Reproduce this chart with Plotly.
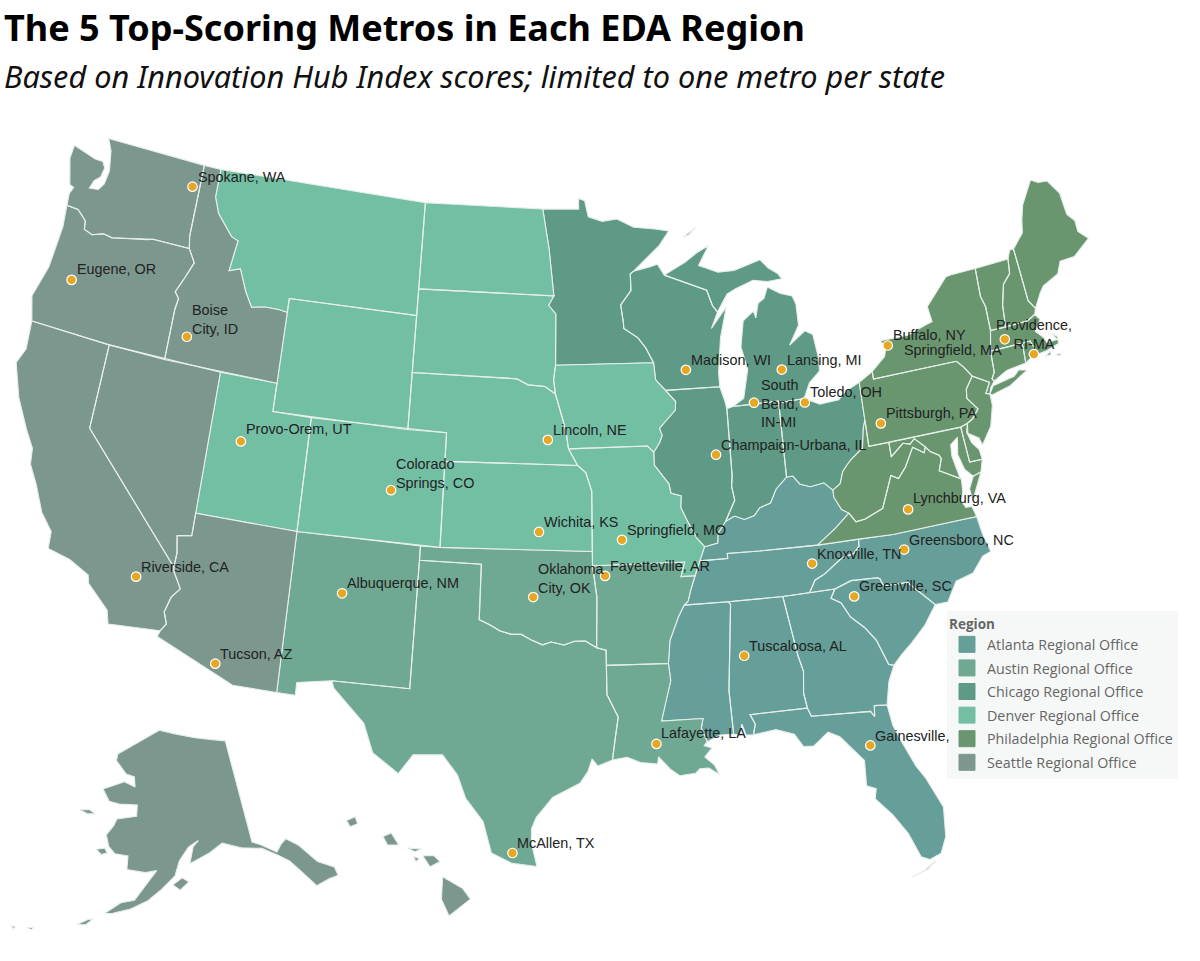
import math
import plotly.graph_objects as go

# ---------- chart text ----------
TITLE = "The 5 Top-Scoring Metros in Each EDA Region"
SUBTITLE = "Based on Innovation Hub Index scores; limited to one metro per state"

# ---------- regions ----------
region_names = ["Atlanta Regional Office", "Austin Regional Office", "Chicago Regional Office",
                "Denver Regional Office", "Philadelphia Regional Office", "Seattle Regional Office"]
region_colors = ["#669e99", "#70a993", "#5e9a85", "#73bfa4", "#69966f", "#7c978e"]
region_states = [["KY","TN","NC","SC","GA","FL","AL","MS"],
                 ["NM","TX","OK","AR","LA"],
                 ["MN","WI","IL","MI","IN","OH"],
                 ["MT","ND","SD","WY","NE","KS","CO","UT","IA","MO"],
                 ["ME","NH","VT","MA","RI","CT","NY","NJ","PA","DE","MD","VA","WV"],
                 ["WA","OR","ID","CA","NV","AZ","AK","HI"]]

# ---------- metros (lon / lat) ----------
metro_labels = ["Spokane, WA","Eugene, OR","Boise<br>City, ID","Provo-Orem, UT","Colorado<br>Springs, CO",
  "Riverside, CA","Tucson, AZ","Albuquerque, NM","Lincoln, NE","Wichita, KS","Springfield, MO",
  "Oklahoma<br>City, OK","Fayetteville, AR","McAllen, TX","Lafayette, LA","Madison, WI","Lansing, MI",
  "South<br>Bend,<br>IN-MI","Toledo, OH","Champaign-Urbana, IL","Buffalo, NY","Springfield, MA",
  "Providence,<br>RI-MA","Pittsburgh, PA","Lynchburg, VA","Knoxville, TN","Greensboro, NC",
  "Greenville, SC","Tuscaloosa, AL","Gainesville,"]
metro_lon = [-117.45,-122.75,-116.12,-112.43,-104.65,-116.29,-111.99,-106.56,-96.83,-97.23,-93.16,-97.47,
  -94.02,-98.2,-91.87,-89.52,-84.46,-86.09,-83.46,-88.26,-78.74,-72.64,-71.35,-79.74,-79.08,-84.04,
  -79.58,-82.25,-87.65,-82.41]
metro_lat = [48.16,43.81,42.96,39.77,38.84,34.38,31.97,35.08,40.89,37.68,37.38,35.41,36.14,26.42,30.21,
  43.18,42.84,41.81,41.59,40.14,43.06,42.32,41.54,40.43,37.3,35.99,35.95,34.64,33.07,29.39]
label_dx = [3,3,3,3,3,3,3,3,3,3,3,3,3,3,3,3,3,5,3,3,3,-1,0,3,3,3,3,3,3,3]
label_dy = [10,11,17,12,17,10,10,10,10,10,10,19,10,10,11,10,10,-1,10,10,10,-11,20,10,11,10,10,10,10,9]
label_anchor = ["left"]*21 + ["right", "center"] + ["left"]*7

# ---------- shared state boundaries (lon, lat) ----------
MN_WI = [(-92.1,46.75),(-92.29,46.66),(-92.29,46.07),(-92.88,45.58),(-92.76,44.95),(-92.75,44.75),(-92.0,44.4),(-91.6,44.03),(-91.22,43.5)]
WI_IA = [(-91.22,43.5),(-91.15,42.9),(-90.65,42.51)]
IA_IL = [(-90.65,42.51),(-90.16,42.1),(-90.2,41.8),(-90.7,41.47),(-91.07,41.2),(-90.95,40.95),(-91.1,40.7),(-91.42,40.38)]
MO_IL = [(-91.42,40.38),(-91.42,39.93),(-90.73,39.25),(-90.65,38.92),(-90.15,38.8),(-90.2,38.4),(-89.9,37.9),(-89.5,37.3),(-89.15,36.98)]
IL_KY = [(-89.15,36.98),(-88.5,37.07),(-88.45,37.4),(-88.03,37.8)]
IN_KY = [(-88.03,37.8),(-87.57,37.95),(-87.1,37.8),(-86.6,37.9),(-86.3,38.15),(-85.75,38.27),(-85.4,38.73),(-84.82,39.1)]
OH_KY = [(-84.82,39.1),(-84.5,39.1),(-84.2,38.8),(-83.7,38.65),(-83.0,38.72),(-82.6,38.42)]
OH_WV = [(-82.6,38.42),(-82.2,38.6),(-82.0,39.0),(-81.75,39.2),(-81.5,39.37),(-80.85,39.7),(-80.65,40.4),(-80.52,40.64)]
KY_WV = [(-82.6,38.42),(-82.6,38.17),(-82.3,37.7),(-81.97,37.54)]
KY_VA = [(-81.97,37.54),(-82.7,37.1),(-83.68,36.6)]
KY_TN = [(-83.68,36.6),(-86.5,36.65),(-88.07,36.68),(-88.07,36.5),(-89.42,36.5)]
KY_MO = [(-89.15,36.98),(-89.42,36.5)]
VA_TN = [(-83.68,36.6),(-81.68,36.59)]
VA_NC = [(-81.68,36.59),(-80.0,36.54),(-75.87,36.55)]
NC_TN = [(-81.68,36.59),(-81.7,36.35),(-82.0,36.12),(-82.6,36.03),(-83.1,35.77),(-83.5,35.57),(-84.0,35.4),(-84.32,34.99)]
MO_TN = [(-89.42,36.5),(-89.7,36.0)]
MO_AR = [(-89.7,36.0),(-90.37,36.0),(-90.15,36.5),(-94.62,36.5)]
AR_TN = [(-89.7,36.0),(-89.95,35.5),(-90.1,35.13),(-90.3,35.0)]
AR_MS = [(-90.3,35.0),(-90.6,34.6),(-91.05,33.8),(-91.17,33.0)]
LA_MS = [(-91.17,33.0),(-91.1,32.4),(-91.4,31.6),(-91.6,31.0),(-89.73,31.0),(-89.83,30.67),(-89.6,30.18)]
MS_TN = [(-90.3,35.0),(-88.2,35.0)]
AL_TN = [(-88.2,35.0),(-85.6,34.98)]
GA_TN = [(-85.6,34.98),(-84.32,34.99)]
GA_NC = [(-84.32,34.99),(-83.11,35.0)]
SC_NC = [(-83.11,35.0),(-82.3,35.2),(-81.04,35.15),(-80.93,35.1),(-80.8,34.82),(-79.67,34.8),(-78.55,33.85)]
GA_SC = [(-83.11,35.0),(-83.35,34.7),(-82.9,34.48),(-82.55,33.95),(-81.95,33.5),(-81.5,33.0),(-81.1,32.1),(-80.87,32.03)]
MS_AL = [(-88.2,35.0),(-88.1,34.9),(-88.47,31.9),(-88.4,30.37)]
GA_AL = [(-85.6,34.98),(-85.18,32.87),(-85.0,32.3),(-85.1,31.55),(-85.0,31.0)]
AL_FL = [(-85.0,31.0),(-87.6,31.0),(-87.4,30.65),(-87.52,30.28)]
GA_FL = [(-85.0,31.0),(-84.86,30.7),(-82.2,30.57),(-82.05,30.37),(-82.0,30.75),(-81.43,30.7)]
MS_COAST = [(-89.6,30.18),(-89.0,30.38),(-88.4,30.37)]
AL_COAST = [(-88.4,30.37),(-88.1,30.3),(-88.0,30.7),(-87.85,30.3),(-87.52,30.28)]
LA_COAST = [(-93.85,29.7),(-93.2,29.78),(-92.6,29.58),(-92.2,29.55),(-91.85,29.5),(-91.8,29.75),(-91.3,29.3),(-90.9,29.05),(-90.2,29.1),(-90.0,29.25),(-89.6,29.25),(-89.15,29.0),(-89.35,29.35),(-89.75,29.65),(-89.4,29.95),(-89.75,30.05),(-89.6,30.18)]
TX_COAST = [(-97.15,25.96),(-97.4,26.8),(-97.4,27.3),(-97.2,27.7),(-96.8,28.1),(-96.5,28.4),(-95.3,28.9),(-94.95,29.3),(-94.75,29.75),(-94.5,29.5),(-93.85,29.7)]
LA_TX = [(-94.04,33.02),(-94.04,32.0),(-93.55,31.2),(-93.7,30.5),(-93.85,29.7)]
AR_LA = [(-94.04,33.02),(-91.17,33.0)]
AR_TX = [(-94.48,33.64),(-94.04,33.55),(-94.04,33.02)]
AR_OK = [(-94.62,36.5),(-94.43,35.4),(-94.48,33.64)]
OK_TX = [(-94.48,33.64),(-95.0,33.88),(-95.5,33.88),(-96.0,33.75),(-96.6,33.85),(-97.0,33.75),(-97.5,33.9),(-98.0,34.1),(-98.5,34.1),(-99.0,34.2),(-99.5,34.4),(-100.0,34.56),(-100.0,36.5),(-103.0,36.5)]
OK_NM = [(-103.0,36.5),(-103.0,37.0)]
OK_KS = [(-102.04,37.0),(-94.62,37.0)]
OK_CO = [(-103.0,37.0),(-102.04,37.0)]
MO_OK = [(-94.62,37.0),(-94.62,36.5)]
KS_MO = [(-95.31,40.0),(-94.9,39.75),(-94.61,39.1),(-94.62,37.0)]
NE_MO = [(-95.77,40.58),(-95.31,40.0)]
IA_MO = [(-95.77,40.58),(-91.73,40.61),(-91.42,40.38)]
IA_NE = [(-96.45,42.49),(-96.1,41.7),(-95.9,41.2),(-95.77,40.58)]
IA_SD = [(-96.45,43.5),(-96.55,43.0),(-96.45,42.49)]
IA_MN = [(-96.45,43.5),(-91.22,43.5)]
NE_SD = [(-104.05,43.0),(-98.5,43.0),(-97.9,42.8),(-97.0,42.75),(-96.45,42.49)]
MN_SD = [(-96.56,45.93),(-96.85,45.6),(-96.45,45.3),(-96.45,43.5)]
MN_ND = [(-97.23,49.0),(-96.85,47.6),(-96.56,45.93)]
ND_SD = [(-104.05,45.94),(-96.56,45.93)]
MT_ID = [(-116.05,49.0),(-116.05,48.0),(-115.7,47.45),(-114.75,46.75),(-114.35,46.65),(-114.55,45.55),(-113.95,45.7),(-113.45,44.95),(-113.0,44.45),(-112.3,44.55),(-111.5,44.55),(-111.05,44.5)]
NM_TX = [(-103.0,36.5),(-103.05,32.0),(-106.62,32.0)]
TX_RIO = [(-106.62,32.0),(-106.5,31.75),(-105.0,30.65),(-104.5,29.65),(-103.3,29.0),(-102.7,29.7),(-101.4,29.77),(-100.7,29.1),(-100.3,28.3),(-99.5,27.5),(-99.1,26.4),(-98.2,26.05),(-97.15,25.96)]
CO_RIVER = [(-114.72,32.72),(-114.5,33.0),(-114.7,33.4),(-114.5,33.95),(-114.15,34.3),(-114.6,34.87),(-114.63,35.0)]
AZ_NV = [(-114.63,35.0),(-114.6,35.5),(-114.74,36.1),(-114.05,36.2),(-114.05,37.0)]
OR_WA = [(-124.05,46.27),(-123.4,46.25),(-123.2,46.15),(-122.85,45.95),(-122.78,45.65),(-122.3,45.55),(-121.7,45.7),(-121.2,45.65),(-120.6,45.75),(-119.9,45.85),(-119.3,45.93),(-118.98,46.0),(-116.92,46.0)]
ID_OR = [(-116.92,46.0),(-116.5,45.55),(-116.85,44.95),(-117.2,44.4),(-116.95,44.2),(-117.03,43.8),(-117.03,42.0)]
CA_COAST = [(-124.2,42.0),(-124.1,41.0),(-124.4,40.44),(-123.8,39.3),(-123.0,38.3),(-122.5,37.75),(-122.4,37.2),(-121.9,36.6),(-121.3,35.7),(-120.65,35.15),(-120.6,34.55),(-119.5,34.38),(-118.5,34.03),(-118.4,33.75),(-117.3,33.0),(-117.13,32.53),(-114.72,32.72)]
WV_MD = [(-77.72,39.32),(-78.2,39.68),(-78.45,39.52),(-78.8,39.6),(-79.49,39.21),(-79.49,39.72)]
VA_WV = [(-77.72,39.32),(-77.83,39.13),(-78.35,39.4),(-78.87,38.77),(-79.3,38.42),(-79.65,38.58),(-80.3,37.5),(-81.22,37.24),(-81.68,37.2),(-81.97,37.54)]
VA_MD = [(-76.25,37.95),(-76.9,38.25),(-77.25,38.4),(-77.04,38.8),(-77.12,38.93),(-77.52,39.12),(-77.72,39.32)]
MD_PA = [(-79.49,39.72),(-75.79,39.72)]
DE_MD = [(-75.79,39.72),(-75.69,38.46),(-75.05,38.45)]
PA_NY = [(-79.76,42.27),(-79.76,42.0),(-75.35,42.0),(-75.05,41.75),(-74.7,41.36)]
PA_NJ = [(-74.7,41.36),(-75.13,40.97),(-75.2,40.65),(-74.75,40.2),(-75.13,39.9),(-75.42,39.8)]
NJ_NY = [(-74.7,41.36),(-73.9,41.0),(-74.2,40.65),(-74.0,40.6)]
VT_NY = [(-73.35,45.0),(-73.4,44.0),(-73.25,43.6),(-73.27,42.75)]
MA_NY = [(-73.27,42.75),(-73.5,42.05)]
CT_NY = [(-73.5,42.05),(-73.55,41.3),(-73.73,41.1),(-73.65,41.0)]
VT_NH = [(-71.5,45.01),(-71.6,44.5),(-72.05,44.2),(-72.35,43.5),(-72.46,42.73)]
MA_VT = [(-72.46,42.73),(-73.27,42.75)]
MA_NH = [(-70.82,42.87),(-71.25,42.73),(-72.46,42.73)]
ME_NH = [(-71.08,45.3),(-71.0,44.0),(-70.98,43.4),(-70.7,43.07)]
CT_MA = [(-71.8,42.02),(-73.5,42.05)]
MA_RI = [(-71.12,41.5),(-71.38,42.02),(-71.8,42.02)]
CT_RI = [(-71.86,41.32),(-71.8,42.02)]
OH_IN = [(-84.81,41.7),(-84.82,39.1)]
OH_MI = [(-83.47,41.73),(-84.81,41.7)]
IN_MI = [(-84.81,41.76),(-87.2,41.76)]
IN_IL = [(-87.52,41.7),(-87.53,39.35),(-87.6,39.0),(-87.5,38.5),(-88.03,37.8)]
IL_WI = [(-87.8,42.49),(-90.65,42.51)]
MI_WI = [(-87.6,45.1),(-87.85,45.35),(-88.1,45.9),(-89.0,46.15),(-90.4,46.55)]
OH_LAKE = [(-80.52,41.98),(-81.3,41.75),(-81.7,41.5),(-82.7,41.45),(-83.47,41.73)]

def rev(seg):
    return list(reversed(seg))

def ring(*parts):
    out = []
    for p in parts:
        out.extend(p)
    return out

STATES = {
 "WA": [ring([(-117.03,49.0),(-122.76,49.0),(-122.45,48.6),(-122.25,47.9),(-122.35,47.4),(-122.6,47.15),(-123.1,47.1),(-122.95,47.4),(-122.65,47.6),(-122.55,47.95),(-122.75,48.15),(-123.2,48.15),(-124.55,48.38),(-124.6,47.9),(-124.2,47.0),(-123.95,46.95),(-124.1,46.7)], OR_WA, [(-117.04,46.42)])],
 "OR": [ring(rev(OR_WA), [(-123.95,45.5),(-124.1,44.0),(-124.55,42.84),(-124.2,42.0),(-120.0,42.0)], rev(ID_OR))],
 "ID": [ring([(-117.03,49.0)], MT_ID, [(-111.05,42.0),(-117.03,42.0)], rev(ID_OR), [(-117.04,46.42)])],
 "CA": [ring(CA_COAST, CO_RIVER, [(-120.0,39.0),(-120.0,42.0)])],
 "NV": [ring([(-120.0,42.0),(-114.05,42.0),(-114.05,37.0)], rev(AZ_NV), [(-120.0,39.0)])],
 "AZ": [ring(AZ_NV, [(-109.05,37.0),(-109.05,31.33),(-111.07,31.33),(-114.81,32.5)], CO_RIVER)],
 "MT": [ring(MT_ID, [(-111.05,45.0),(-104.05,45.0),(-104.05,49.0)])],
 "WY": [[(-111.05,45.0),(-104.05,45.0),(-104.05,41.0),(-111.05,41.0)]],
 "UT": [[(-114.05,42.0),(-111.05,42.0),(-111.05,41.0),(-109.05,41.0),(-109.05,37.0),(-114.05,37.0)]],
 "CO": [[(-109.05,41.0),(-102.05,41.0),(-102.05,37.0),(-109.05,37.0)]],
 "NM": [ring([(-109.05,37.0),(-103.0,37.0)], rev(OK_NM), NM_TX, [(-108.2,31.78),(-108.2,31.33),(-109.05,31.33)])],
 "ND": [ring([(-104.05,49.0)], MN_ND, rev(ND_SD))],
 "SD": [ring(ND_SD, MN_SD, IA_SD, rev(NE_SD))],
 "NE": [ring(NE_SD, IA_NE, NE_MO, [(-102.05,40.0),(-102.05,41.0),(-104.05,41.0)])],
 "KS": [ring([(-102.05,40.0)], KS_MO, rev(OK_KS))],
 "OK": [ring(OK_CO, OK_KS, MO_OK, AR_OK, OK_TX, OK_NM)],
 "TX": [ring(NM_TX, TX_RIO, TX_COAST, rev(LA_TX), rev(AR_TX), OK_TX)],
 "MN": [ring(MN_ND, MN_SD, IA_MN, rev(MN_WI), [(-91.3,47.2),(-90.6,47.6),(-90.0,48.1),(-90.8,48.2),(-92.0,48.3),(-92.95,48.62),(-93.8,48.55),(-94.6,48.72),(-94.8,49.3),(-95.15,49.38),(-95.15,49.0)])],
 "IA": [ring(IA_MN, WI_IA, IA_IL, rev(IA_MO), rev(IA_NE), rev(IA_SD))],
 "MO": [ring(IA_MO, MO_IL, KY_MO, MO_TN, MO_AR, rev(MO_OK), rev(KS_MO), rev(NE_MO))],
 "AR": [ring(AR_OK, AR_TX, AR_LA, rev(AR_MS), rev(AR_TN), MO_AR)],
 "LA": [ring(AR_LA, LA_MS, rev(LA_COAST), rev(LA_TX))],
 "WI": [ring(MN_WI, WI_IA, rev(IL_WI), [(-87.8,43.0),(-87.55,44.2),(-87.1,45.25),(-87.9,44.6),(-88.0,44.55)], MI_WI, [(-90.75,46.95),(-91.2,46.87)])],
 "IL": [ring(IL_WI, IA_IL, MO_IL, IL_KY, rev(IN_IL), [(-87.6,42.0)])],
 "IN": [ring(IN_IL, IN_KY, rev(OH_IN), IN_MI)],
 "OH": [ring(OH_LAKE, OH_MI, OH_IN, OH_KY, OH_WV)],
 "MI": [ring(OH_MI, IN_MI, [(-86.6,42.0),(-86.25,43.0),(-86.5,43.8),(-86.25,44.7),(-85.65,45.0),(-85.55,44.75),(-85.35,45.25),(-85.0,45.4),(-84.75,45.78),(-84.1,45.5),(-83.45,45.35),(-83.3,45.05),(-83.3,44.3),(-83.9,43.65),(-83.0,44.07),(-82.6,43.9),(-82.45,43.0),(-82.5,42.6),(-83.1,42.25)]),
        ring(rev(MI_WI), [(-87.0,45.7),(-86.5,45.85),(-85.5,46.08),(-84.7,45.97),(-83.9,46.0),(-84.1,46.2),(-84.6,46.45),(-85.0,46.77),(-86.5,46.5),(-87.4,46.5),(-88.45,46.8),(-87.8,47.47),(-88.5,47.25),(-89.2,46.95)]),
        [(-89.2,47.85),(-88.45,48.15),(-88.9,47.9)]],
 "KY": [ring(IL_KY, IN_KY, OH_KY, KY_WV, KY_VA, KY_TN, rev(KY_MO))],
 "TN": [ring(KY_TN, MO_TN, AR_TN, MS_TN, AL_TN, GA_TN, rev(NC_TN), rev(VA_TN))],
 "MS": [ring(MS_TN, MS_AL, rev(MS_COAST), rev(LA_MS), rev(AR_MS))],
 "AL": [ring(AL_TN, GA_AL, AL_FL, rev(AL_COAST), rev(MS_AL))],
 "GA": [ring(GA_TN, GA_NC, GA_SC, [(-81.2,31.5)], rev(GA_FL), rev(GA_AL))],
 "FL": [ring(GA_FL, [(-81.3,29.95),(-81.0,29.3),(-80.55,28.4),(-80.2,27.9),(-79.65,26.8),(-79.75,25.75),(-80.05,25.2),(-80.55,25.05),(-80.9,25.2),(-81.3,26.1),(-81.85,26.85),(-82.5,27.5),(-82.4,27.85),(-82.8,28.0),(-82.75,28.9),(-83.0,29.15),(-83.7,29.85),(-84.2,30.07),(-84.9,29.65),(-85.35,29.68),(-85.7,30.15),(-86.5,30.38)], rev(AL_FL)),
        [(-81.4,24.55),(-80.9,24.68),(-80.3,24.98),(-80.7,24.72)]],
 "SC": [ring(SC_NC, [(-79.2,33.2),(-79.9,32.7),(-80.45,32.35)], rev(GA_SC))],
 "NC": [ring(rev(NC_TN), VA_NC, [(-75.75,35.9),(-75.53,35.25),(-75.95,35.15),(-76.55,34.65),(-77.4,34.5),(-77.95,33.85)], rev(SC_NC), rev(GA_NC))],
 "VA": [ring(rev(KY_VA), rev(VA_WV), rev(VA_MD), [(-76.3,37.5),(-76.45,37.2),(-76.3,36.95),(-76.0,36.93)], rev(VA_NC), rev(VA_TN)),
        [(-75.24,38.03),(-75.9,37.12),(-75.95,37.55),(-75.65,37.95)]],
 "WV": [ring(rev(OH_WV), KY_WV, rev(VA_WV), WV_MD, [(-80.52,39.72)])],
 "MD": [ring(MD_PA, DE_MD, [(-75.24,38.03),(-75.65,37.95),(-76.0,38.25),(-76.2,38.8),(-76.05,39.4),(-76.45,39.2),(-76.5,38.8),(-76.4,38.3),(-76.32,38.05)], VA_MD, WV_MD)],
 "DE": [ring(DE_MD, [(-75.1,38.8),(-75.4,39.1),(-75.55,39.5),(-75.42,39.8)])],
 "PA": [ring(PA_NY, PA_NJ, rev(MD_PA), [(-80.52,39.72),(-80.52,40.64),(-80.52,41.98)])],
 "NJ": [ring(rev(PA_NJ), NJ_NY, [(-74.0,40.2),(-74.3,39.5),(-74.9,38.93),(-75.0,39.2),(-75.5,39.45)])],
 "NY": [ring(PA_NY, NJ_NY, [(-73.9,40.8)], rev(CT_NY), rev(MA_NY), rev(VT_NY), [(-74.7,45.0),(-75.0,44.97),(-75.8,44.45),(-76.3,44.1),(-76.2,43.55),(-76.5,43.5),(-77.6,43.27),(-79.05,43.27),(-78.9,42.9),(-79.0,42.7)]),
        [(-74.0,40.6),(-73.75,40.85),(-72.6,40.98),(-72.3,41.15),(-71.87,41.07),(-72.9,40.7),(-73.9,40.55)]],
 "VT": [ring(VT_NY, MA_VT[::-1], rev(VT_NH))],
 "NH": [ring(VT_NH, rev(MA_NH), [(-70.7,43.07)], rev(ME_NH), [(-71.3,45.3)])],
 "ME": [ring(ME_NH, [(-70.25,43.55),(-70.0,43.75),(-69.1,44.0),(-68.8,44.4),(-68.0,44.4),(-67.0,44.85),(-67.45,45.2),(-67.45,45.6),(-67.78,45.9),(-67.85,46.7),(-68.35,47.25),(-68.85,47.3),(-69.23,47.46),(-70.0,46.7),(-70.25,46.2),(-70.4,45.75)])],
 "MA": [ring(MA_NH, MA_VT, MA_NY, rev(CT_MA), rev(MA_RI), [(-70.65,41.53),(-69.98,41.65),(-69.95,41.9),(-70.2,42.07),(-70.0,41.8),(-70.55,41.8),(-70.65,42.0),(-71.0,42.3),(-70.6,42.65)]),
        [(-70.8,41.35),(-70.5,41.47),(-70.48,41.35)], [(-70.25,41.3),(-70.0,41.3),(-70.05,41.23)]],
 "RI": [ring(MA_RI, rev(CT_RI), [(-71.38,41.5)])],
 "CT": [ring(CT_MA, CT_NY, [(-72.9,41.25)], CT_RI)],
 "AK": [[(-141,69.65),(-141,60.3),(-139.7,59.9),(-137.5,58.9),(-136.5,59.45),(-135.4,59.8),(-133.8,58.9),(-132.0,57.0),(-130.0,56.0),(-130.0,55.2),(-131.5,55.2),(-133.5,55.0),(-134.5,56.2),(-136.0,57.8),(-137.5,58.6),(-139.7,59.55),(-143,60.0),(-146,60.7),(-148.4,60.0),(-151.8,59.2),(-151.0,60.7),(-150.0,61.2),(-151.8,60.7),(-153.5,59.5),(-154.3,58.2),(-156.5,57.0),(-158.5,56.0),(-161,55.2),(-163.5,54.7),(-164.7,54.6),(-162.5,55.7),(-160.5,56.0),(-158.5,57.7),(-157.2,58.7),(-159,58.5),(-162,58.7),(-162,59.9),(-164.2,60.0),(-165.4,60.6),(-166.1,61.6),(-165,62.5),(-164.6,63.1),(-161,63.5),(-161,64.5),(-164.5,64.45),(-166.5,64.6),(-168.1,65.6),(-164,66.5),(-161.7,66.1),(-162,67.0),(-163.8,67.2),(-166.3,68.3),(-166.2,68.9),(-163,69.8),(-160.5,70.5),(-156.7,71.3),(-152.5,70.9),(-148,70.4),(-144,70.0)],
        [(-154.7,57.4),(-153.2,58.0),(-152.2,57.6),(-153.6,56.9)],
        [(-171.7,63.4),(-170,63.6),(-168.7,63.3),(-170.2,63.2)],
        [(-167.4,60.2),(-166,60.4),(-165.5,60),(-166.5,59.8)],
        [(-166.9,53.9),(-166.2,54.0),(-167.1,53.4),(-168.3,53.3)],
        [(-174.9,52.1),(-174,52.3),(-174.2,52.05)],
        [(-177,51.9),(-176.4,51.95),(-176.6,51.7)]],
 "HI": [[(-155.9,20.25),(-155.1,19.85),(-154.8,19.5),(-155.65,18.95),(-155.95,19.5)],
        [(-156.7,20.95),(-156.25,20.95),(-156.0,20.75),(-156.4,20.58)],
        [(-158.28,21.58),(-157.95,21.7),(-157.65,21.3),(-158.1,21.3)],
        [(-159.75,22.1),(-159.4,22.23),(-159.3,22.0),(-159.6,21.9)],
        [(-157.3,21.2),(-156.75,21.17),(-157.0,21.08)],
        [(-157.05,20.92),(-156.82,20.85),(-156.97,20.75)]],
}

# ---------- Albers-style projection ----------
def conic(lon, lat, lon0, p1, p2):
    a, b = math.radians(p1), math.radians(p2)
    n = (math.sin(a) + math.sin(b)) / 2
    c = math.cos(a) ** 2 + 2 * n * math.sin(a)
    r = math.sqrt(max(c - 2 * n * math.sin(math.radians(lat)), 0)) / n
    t = n * math.radians(lon - lon0)
    return r * math.sin(t), r * math.cos(t)

def project(lon, lat, state=None):
    if state == "AK":
        x, y = conic(lon, lat, -157, 55, 65)
        return 158 + 689 * x, 486.5 + 640 * y
    if state == "HI":
        x, y = conic(lon, lat, -157, 8, 18)
        return 415 + 1527 * x, -6427 + 1737 * y
    x, y = conic(lon, lat, -96, 29.5, 45.5)
    return 564 + 1487 * x, -1587 + 1630 * y

fig = go.Figure()
for name, color, states in zip(region_names, region_colors, region_states):
    xs, ys = [], []
    for st in states:
        for poly in STATES[st]:
            pts = [project(a, b, st) for a, b in poly]
            pts.append(pts[0])
            xs += [p[0] for p in pts] + [None]
            ys += [p[1] for p in pts] + [None]
    fig.add_trace(go.Scatter(x=xs, y=ys, mode="lines", fill="toself", fillcolor=color, name=name,
                             legendgroup=name, showlegend=False,
                             line=dict(color="#e6eeea", width=1.1), hoverinfo="name"))
for name, color in zip(region_names, region_colors):
    fig.add_trace(go.Scatter(x=[None], y=[None], mode="markers", name=name, legendgroup=name,
                             marker=dict(symbol="square", size=16, color=color, line=dict(color=color, width=1))))

mx, my = zip(*[project(a, b) for a, b in zip(metro_lon, metro_lat)])
fig.add_trace(go.Scatter(x=mx, y=my, mode="markers", showlegend=False, text=metro_labels, hoverinfo="text",
                         marker=dict(size=9.5, color="#e8a723", line=dict(color="white", width=1.2))))

ann = []
for x, y, t, dx, dy, anc in zip(mx, my, metro_labels, label_dx, label_dy, label_anchor):
    ann.append(dict(x=x, y=y, xref="x", yref="y", text=t, showarrow=False, xanchor=anc, yanchor="middle",
                    align=anc, xshift=dx, yshift=dy, font=dict(family="Liberation Sans", size=14.4, color="#222")))
ann.append(dict(x=2/1200, y=1-76/961, xref="paper", yref="paper", text="<i>"+SUBTITLE+"</i>", showarrow=False,
                xanchor="left", yanchor="middle", font=dict(family="Noto Sans", size=30.7, color="#111")))

fig.update_layout(
    width=1200, height=961, margin=dict(l=0, r=0, t=0, b=0),
    paper_bgcolor="white", plot_bgcolor="white",
    title=dict(text="<b>"+TITLE+"</b>", x=4/1200, xanchor="left", y=1-28/961, yanchor="middle",
               font=dict(family="Noto Sans", size=36, color="#000")),
    xaxis=dict(range=[0, 1200], visible=False, fixedrange=True),
    yaxis=dict(range=[961, 0], visible=False, fixedrange=True),
    annotations=ann,
    legend=dict(x=947/1200, y=1-611/961, xanchor="left", yanchor="top", bgcolor="#f6f8f7",
                title=dict(text="<b>Region</b>", font=dict(family="Open Sans", size=13.5, color="#666")),
                font=dict(family="Open Sans", size=14.3, color="#666"), itemwidth=30, tracegroupgap=2,
                entrywidth=196, entrywidthmode="pixels"),
    showlegend=True,
)
fig.write_html("out.html", config={"displayModeBar": False},
               post_script="document.body.style.margin='0';")
